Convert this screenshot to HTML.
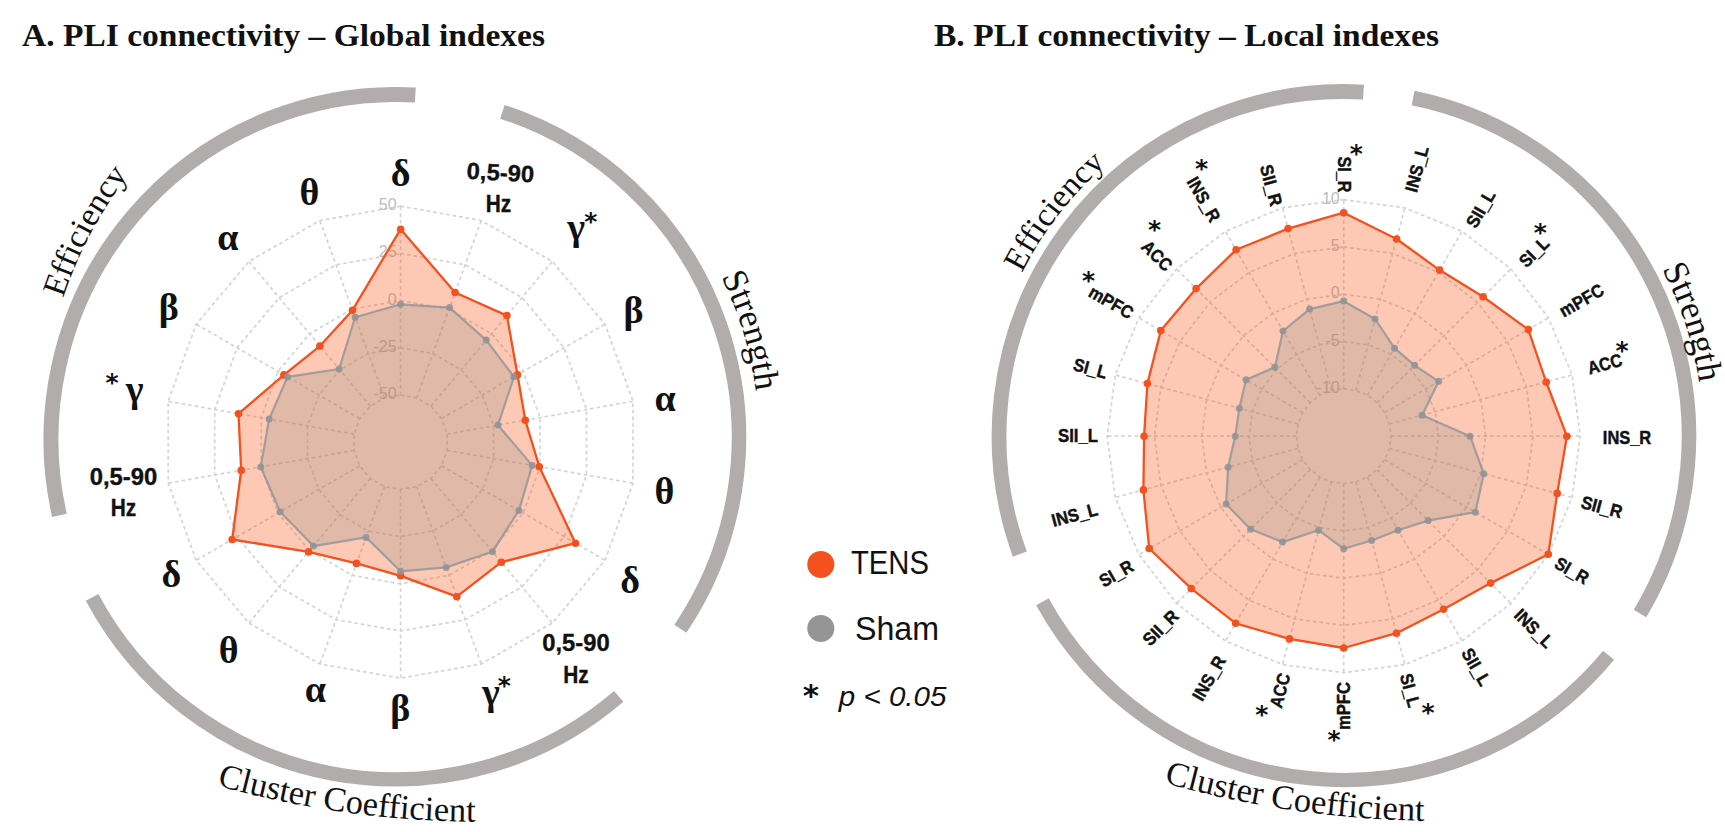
<!DOCTYPE html>
<html lang="en"><head><meta charset="utf-8"><title>PLI connectivity</title>
<style>
html,body{margin:0;padding:0;background:#fff;}
svg{display:block;}
.ttl{font-family:'Liberation Serif',serif;font-weight:bold;font-size:32px;fill:#111;}
.grk{font-family:'Liberation Serif',serif;font-weight:bold;font-size:38px;fill:#111;text-anchor:middle;}
.hz{font-family:'Liberation Sans',sans-serif;font-weight:bold;font-size:23.6px;fill:#111;stroke:#111;stroke-width:0.35px;text-anchor:middle;}
.lb{font-family:'Liberation Sans',sans-serif;font-weight:bold;font-size:18px;fill:#111;stroke:#111;stroke-width:0.45px;text-anchor:middle;}
.ast{font-family:'DejaVu Sans',sans-serif;font-weight:bold;font-size:27px;fill:#111;text-anchor:middle;}
.cur{font-family:'Liberation Serif',serif;fill:#111;}
.leg{font-family:'Liberation Sans',sans-serif;font-size:33px;fill:#111;}
</style></head><body>
<svg width="1725" height="832" viewBox="0 0 1725 832">
<rect width="1725" height="832" fill="#fff"/>
<text class="ttl" x="22" y="46" textLength="523" lengthAdjust="spacingAndGlyphs">A. PLI connectivity – Global indexes</text>
<text class="ttl" x="934" y="46" textLength="505" lengthAdjust="spacingAndGlyphs">B. PLI connectivity – Local indexes</text>
<!-- Chart A -->
<g fill="none" stroke="#d4d4d4" stroke-width="1.7" stroke-dasharray="3.6 3">
<polygon points="400.6,395.1 416.7,397.9 430.9,406.1 441.5,418.6 447.1,434.1 447.1,450.4 441.5,465.8 430.9,478.4 416.7,486.6 400.6,489.4 384.5,486.6 370.3,478.4 359.7,465.9 354.1,450.4 354.1,434.1 359.7,418.6 370.3,406.1 384.5,397.9"/>
<polygon points="400.6,347.9 432.9,353.5 461.3,369.9 482.4,395.1 493.6,425.9 493.6,458.6 482.4,489.4 461.3,514.6 432.9,531 400.6,536.6 368.3,531 339.9,514.6 318.8,489.5 307.6,458.6 307.6,425.9 318.8,395.1 339.9,369.9 368.3,353.5"/>
<polygon points="400.6,300.6 449,309.2 491.6,333.8 523.2,371.4 540,417.7 540,466.8 523.2,513 491.6,550.7 449,575.3 400.6,583.9 352.2,575.3 309.6,550.7 278,513.1 261.2,466.8 261.2,417.7 278,371.4 309.6,333.8 352.2,309.2"/>
<polygon points="400.6,253.4 465.2,264.8 522,297.6 564.1,347.8 586.5,409.5 586.5,475 564.1,536.6 522,586.9 465.2,619.7 400.6,631 336,619.7 279.2,586.9 237.1,536.7 214.7,475 214.7,409.5 237.1,347.8 279.2,297.6 336,264.8"/>
<polygon points="400.6,206.2 481.3,220.5 552.3,261.5 605,324.2 633,401.3 633,483.2 605,560.2 552.3,623 481.3,664 400.6,678.2 319.9,664 248.9,623 196.2,560.3 168.2,483.2 168.2,401.3 196.2,324.2 248.9,261.5 319.9,220.5"/>
<path d="M400.6 395.1L400.6 206.2M416.7 397.9L481.3 220.5M430.9 406.1L552.3 261.5M441.5 418.6L605 324.2M447.1 434.1L633 401.3M447.1 450.4L633 483.2M441.5 465.8L605 560.2M430.9 478.4L552.3 623M416.7 486.6L481.3 664M400.6 489.4L400.6 678.2M384.5 486.6L319.9 664M370.3 478.4L248.9 623M359.7 465.9L196.2 560.3M354.1 450.4L168.2 483.2M354.1 434.1L168.2 401.3M359.7 418.6L196.2 324.2M370.3 406.1L248.9 261.5M384.5 397.9L319.9 220.5"/>
</g>
<g font-family="'Liberation Sans', sans-serif" font-size="16" fill="#bdbdbd" text-anchor="end">
<text x="396.6" y="210.2">50</text>
<text x="396.6" y="257.4">25</text>
<text x="396.6" y="304.6">0</text>
<text x="396.6" y="351.9">-25</text>
<text x="396.6" y="399.1">-50</text>
</g>
<polygon points="400.6,229.2 455.1,292.5 506.9,315.6 517.5,374.8 525.3,420.3 539.3,466.7 575.5,543.2 501.3,562.2 456.8,596.7 400.6,575.8 356.5,563.4 308.6,551.9 232.2,539.5 241.2,470.4 238.5,413.7 283.9,374.9 319.9,346.1 352.5,310.2" fill="rgba(248,81,16,0.31)" stroke="#f4511e" stroke-width="2.3" stroke-opacity="1" stroke-linejoin="round"/>
<g fill="#f4511e" fill-opacity="1"><circle cx="400.6" cy="229.2" r="3.8"/><circle cx="455.1" cy="292.5" r="3.8"/><circle cx="506.9" cy="315.6" r="3.8"/><circle cx="517.5" cy="374.8" r="3.8"/><circle cx="525.3" cy="420.3" r="3.8"/><circle cx="539.3" cy="466.7" r="3.8"/><circle cx="575.5" cy="543.2" r="3.8"/><circle cx="501.3" cy="562.2" r="3.8"/><circle cx="456.8" cy="596.7" r="3.8"/><circle cx="400.6" cy="575.8" r="3.8"/><circle cx="356.5" cy="563.4" r="3.8"/><circle cx="308.6" cy="551.9" r="3.8"/><circle cx="232.2" cy="539.5" r="3.8"/><circle cx="241.2" cy="470.4" r="3.8"/><circle cx="238.5" cy="413.7" r="3.8"/><circle cx="283.9" cy="374.9" r="3.8"/><circle cx="319.9" cy="346.1" r="3.8"/><circle cx="352.5" cy="310.2" r="3.8"/></g>
<polygon points="400.6,304.3 449.6,307.6 486.3,340.1 514,376.8 498,425.1 532.2,465.4 518.9,510.5 492.5,551.7 446.2,567.4 400.6,571.3 366,537.4 313.4,546.1 280.1,511.8 260.7,466.9 269.1,419.1 287.5,376.9 339.1,369 355.1,317.2" fill="rgba(146,144,138,0.27)" stroke="#8f9396" stroke-width="2.2" stroke-opacity="0.8" stroke-linejoin="round"/>
<g fill="#8f9396" fill-opacity="0.88"><circle cx="400.6" cy="304.3" r="3.5"/><circle cx="449.6" cy="307.6" r="3.5"/><circle cx="486.3" cy="340.1" r="3.5"/><circle cx="514" cy="376.8" r="3.5"/><circle cx="498" cy="425.1" r="3.5"/><circle cx="532.2" cy="465.4" r="3.5"/><circle cx="518.9" cy="510.5" r="3.5"/><circle cx="492.5" cy="551.7" r="3.5"/><circle cx="446.2" cy="567.4" r="3.5"/><circle cx="400.6" cy="571.3" r="3.5"/><circle cx="366" cy="537.4" r="3.5"/><circle cx="313.4" cy="546.1" r="3.5"/><circle cx="280.1" cy="511.8" r="3.5"/><circle cx="260.7" cy="466.9" r="3.5"/><circle cx="269.1" cy="419.1" r="3.5"/><circle cx="287.5" cy="376.9" r="3.5"/><circle cx="339.1" cy="369" r="3.5"/><circle cx="355.1" cy="317.2" r="3.5"/></g>
<path d="M59.4 515.3A345 345 0 0 1 415.3 95" fill="none" stroke="#b1adad" stroke-width="15"/>
<path d="M502.4 111.8A342.2 342.2 0 0 1 680.4 628.7" fill="none" stroke="#b1adad" stroke-width="14.5"/>
<path d="M618.7 696.3A343 343 0 0 1 92.1 597.3" fill="none" stroke="#b1adad" stroke-width="14.3"/>
<text class="grk" x="400.5" y="186">δ</text>
<text class="grk" x="576.2" y="240">γ</text>
<text class="grk" x="633.5" y="323">β</text>
<text class="grk" x="665.2" y="410.5">α</text>
<text class="grk" x="664.3" y="504">θ</text>
<text class="grk" x="630" y="593">δ</text>
<text class="grk" x="491" y="705">γ</text>
<text class="grk" x="400.2" y="721">β</text>
<text class="grk" x="315.4" y="701.8">α</text>
<text class="grk" x="228.6" y="662.5">θ</text>
<text class="grk" x="171.3" y="587">δ</text>
<text class="grk" x="134.6" y="402">γ</text>
<text class="grk" x="168.7" y="319.5">β</text>
<text class="grk" x="227.9" y="250">α</text>
<text class="grk" x="309.3" y="205">θ</text>
<text class="hz" x="500.5" y="180.7" transform="rotate(3.2 500.5 172.7)" textLength="67.5" lengthAdjust="spacingAndGlyphs">0,5-90</text><text class="hz" x="498.5" y="211.6" textLength="25.5" lengthAdjust="spacingAndGlyphs">Hz</text>
<text class="hz" x="575.9" y="651.4" textLength="67.5" lengthAdjust="spacingAndGlyphs">0,5-90</text><text class="hz" x="576" y="682.5" textLength="25.5" lengthAdjust="spacingAndGlyphs">Hz</text>
<text class="hz" x="123.5" y="484.8" textLength="67.5" lengthAdjust="spacingAndGlyphs">0,5-90</text><text class="hz" x="123.5" y="516" textLength="25.5" lengthAdjust="spacingAndGlyphs">Hz</text>
<text class="ast" x="590.7" y="230" style="font-size:25px">*</text>
<text class="ast" x="504.2" y="694" style="font-size:25px">*</text>
<text class="ast" x="112" y="391.3" style="font-size:25px">*</text>
<defs>
<path id="pAe" d="M63.2 298.1A414.8 414.8 0 0 1 249.8 68.4" fill="none"/>
<path id="pAs" d="M721.2 276.9A362 362 0 0 1 753.2 500.2" fill="none"/>
<path id="pAc" d="M147.3 763A973.8 973.8 0 0 0 565.3 818" fill="none"/>
<path id="pBe" d="M1021.8 272.9A361 361 0 0 1 1250.3 87.5" fill="none"/>
<path id="pBs" d="M1662 269.1A359.5 359.5 0 0 1 1697.7 498.6" fill="none"/>
<path id="pBc" d="M1091.5 759.4A1020.7 1020.7 0 0 0 1529.6 817.1" fill="none"/>
</defs>
<text class="cur" font-size="33" textLength="140" lengthAdjust="spacingAndGlyphs"><textPath href="#pAe">Efficiency</textPath></text>
<text class="cur" font-size="35.5" textLength="120" lengthAdjust="spacingAndGlyphs"><textPath href="#pAs">Strength</textPath></text>
<text class="cur" font-size="34.3" textLength="262" lengthAdjust="spacingAndGlyphs"><textPath href="#pAc" startOffset="73">Cluster Coefficient</textPath></text>
<circle cx="820.8" cy="564.4" r="13.5" fill="#f4511e"/>
<circle cx="820.8" cy="628.4" r="13.5" fill="#959595"/>
<text class="leg" x="851" y="574.2" textLength="78" lengthAdjust="spacingAndGlyphs">TENS</text>
<text class="leg" x="855" y="639.5" textLength="84" lengthAdjust="spacingAndGlyphs">Sham</text>
<text class="leg" x="838.8" y="706.4" font-style="italic" style="font-size:28px" textLength="107.6" lengthAdjust="spacingAndGlyphs">p &lt; 0.05</text>
<text class="ast" x="810.8" y="706.4" style="font-size:31px">*</text>
<!-- Chart B -->
<g fill="none" stroke="#d4d4d4" stroke-width="1.7" stroke-dasharray="3.6 3">
<polygon points="1343.7,388.9 1355.9,390.5 1367.4,395.2 1377.1,402.8 1384.7,412.6 1389.4,424 1391,436.2 1389.4,448.4 1384.7,459.8 1377.1,469.6 1367.4,477.2 1355.9,481.9 1343.7,483.5 1331.5,481.9 1320,477.2 1310.3,469.6 1302.7,459.9 1298,448.4 1296.4,436.2 1298,424 1302.7,412.6 1310.3,402.8 1320,395.2 1331.5,390.5"/>
<polygon points="1343.7,341.6 1368.2,344.8 1391,354.3 1410.6,369.3 1425.6,388.9 1435.1,411.7 1438.3,436.2 1435.1,460.7 1425.6,483.5 1410.6,503.1 1391,518.1 1368.2,527.6 1343.7,530.8 1319.2,527.6 1296.4,518.1 1276.8,503.1 1261.8,483.5 1252.3,460.7 1249.1,436.2 1252.3,411.7 1261.8,388.9 1276.8,369.3 1296.4,354.3 1319.2,344.8"/>
<polygon points="1343.7,294.3 1380.4,299.1 1414.7,313.3 1444,335.9 1466.6,365.2 1480.8,399.5 1485.6,436.2 1480.8,472.9 1466.6,507.1 1444,536.5 1414.7,559.1 1380.4,573.3 1343.7,578.1 1307,573.3 1272.8,559.1 1243.4,536.5 1220.8,507.2 1206.6,472.9 1201.8,436.2 1206.6,399.5 1220.8,365.2 1243.4,335.9 1272.8,313.3 1307,299.1"/>
<polygon points="1343.7,247 1392.7,253.4 1438.3,272.3 1477.5,302.4 1507.6,341.6 1526.5,387.2 1532.9,436.2 1526.5,485.2 1507.6,530.8 1477.5,570 1438.3,600.1 1392.7,619 1343.7,625.4 1294.7,619 1249.1,600.1 1209.9,570 1179.8,530.8 1160.9,485.2 1154.5,436.2 1160.9,387.2 1179.8,341.6 1209.9,302.4 1249.1,272.3 1294.7,253.4"/>
<polygon points="1343.7,199.7 1404.9,207.8 1462,231.4 1510.9,269 1548.5,317.9 1572.1,375 1580.2,436.2 1572.1,497.4 1548.5,554.4 1510.9,603.4 1462,641 1404.9,664.6 1343.7,672.7 1282.5,664.6 1225.5,641 1176.5,603.4 1138.9,554.5 1115.3,497.4 1107.2,436.2 1115.3,375 1138.9,317.9 1176.5,269 1225.5,231.4 1282.5,207.8"/>
<path d="M1343.7 388.9L1343.7 199.7M1355.9 390.5L1404.9 207.8M1367.4 395.2L1462 231.4M1377.1 402.8L1510.9 269M1384.7 412.6L1548.5 317.9M1389.4 424L1572.1 375M1391 436.2L1580.2 436.2M1389.4 448.4L1572.1 497.4M1384.7 459.8L1548.5 554.4M1377.1 469.6L1510.9 603.4M1367.4 477.2L1462 641M1355.9 481.9L1404.9 664.6M1343.7 483.5L1343.7 672.7M1331.5 481.9L1282.5 664.6M1320 477.2L1225.5 641M1310.3 469.6L1176.5 603.4M1302.7 459.9L1138.9 554.5M1298 448.4L1115.3 497.4M1296.4 436.2L1107.2 436.2M1298 424L1115.3 375M1302.7 412.6L1138.9 317.9M1310.3 402.8L1176.5 269M1320 395.2L1225.5 231.4M1331.5 390.5L1282.5 207.8"/>
</g>
<g font-family="'Liberation Sans', sans-serif" font-size="16" fill="#bdbdbd" text-anchor="end">
<text x="1339.7" y="203.7">10</text>
<text x="1339.7" y="251">5</text>
<text x="1339.7" y="298.3">0</text>
<text x="1339.7" y="345.6">-5</text>
<text x="1339.7" y="392.9">-10</text>
</g>
<polygon points="1343.7,212.7 1396.6,239 1439.6,270.1 1483.1,296.8 1528.3,329.6 1546.2,382 1566.9,436.2 1557.2,493.4 1548.3,554.3 1490.6,583.1 1443.6,609.2 1396.5,633.2 1343.7,648 1289.4,638.9 1235.7,623.3 1191.3,588.6 1149.2,548.5 1143.4,489.9 1144.1,436.2 1147.4,383.6 1160.8,330.6 1196.1,288.6 1236.1,249.8 1288.1,228.6" fill="rgba(248,81,16,0.31)" stroke="#f4511e" stroke-width="2.3" stroke-opacity="1" stroke-linejoin="round"/>
<g fill="#f4511e" fill-opacity="1"><circle cx="1343.7" cy="212.7" r="3.8"/><circle cx="1396.6" cy="239" r="3.8"/><circle cx="1439.6" cy="270.1" r="3.8"/><circle cx="1483.1" cy="296.8" r="3.8"/><circle cx="1528.3" cy="329.6" r="3.8"/><circle cx="1546.2" cy="382" r="3.8"/><circle cx="1566.9" cy="436.2" r="3.8"/><circle cx="1557.2" cy="493.4" r="3.8"/><circle cx="1548.3" cy="554.3" r="3.8"/><circle cx="1490.6" cy="583.1" r="3.8"/><circle cx="1443.6" cy="609.2" r="3.8"/><circle cx="1396.5" cy="633.2" r="3.8"/><circle cx="1343.7" cy="648" r="3.8"/><circle cx="1289.4" cy="638.9" r="3.8"/><circle cx="1235.7" cy="623.3" r="3.8"/><circle cx="1191.3" cy="588.6" r="3.8"/><circle cx="1149.2" cy="548.5" r="3.8"/><circle cx="1143.4" cy="489.9" r="3.8"/><circle cx="1144.1" cy="436.2" r="3.8"/><circle cx="1147.4" cy="383.6" r="3.8"/><circle cx="1160.8" cy="330.6" r="3.8"/><circle cx="1196.1" cy="288.6" r="3.8"/><circle cx="1236.1" cy="249.8" r="3.8"/><circle cx="1288.1" cy="228.6" r="3.8"/></g>
<polygon points="1343.7,301.1 1375.1,319 1394.5,348.2 1414.6,365.3 1438.7,381.3 1422.2,415.2 1470.1,436.2 1483.8,473.7 1475.4,512.2 1428.1,520.6 1398,530.3 1371.7,540.5 1343.7,548.8 1318.5,530.2 1282.5,542.1 1250.6,529.3 1226.1,504.1 1228.1,467.2 1235.2,436.2 1239.3,408.2 1246,379.8 1274.8,367.3 1283,331 1309.6,309.1" fill="rgba(146,144,138,0.27)" stroke="#8f9396" stroke-width="2.2" stroke-opacity="0.8" stroke-linejoin="round"/>
<g fill="#8f9396" fill-opacity="0.88"><circle cx="1343.7" cy="301.1" r="3.5"/><circle cx="1375.1" cy="319" r="3.5"/><circle cx="1394.5" cy="348.2" r="3.5"/><circle cx="1414.6" cy="365.3" r="3.5"/><circle cx="1438.7" cy="381.3" r="3.5"/><circle cx="1422.2" cy="415.2" r="3.5"/><circle cx="1470.1" cy="436.2" r="3.5"/><circle cx="1483.8" cy="473.7" r="3.5"/><circle cx="1475.4" cy="512.2" r="3.5"/><circle cx="1428.1" cy="520.6" r="3.5"/><circle cx="1398" cy="530.3" r="3.5"/><circle cx="1371.7" cy="540.5" r="3.5"/><circle cx="1343.7" cy="548.8" r="3.5"/><circle cx="1318.5" cy="530.2" r="3.5"/><circle cx="1282.5" cy="542.1" r="3.5"/><circle cx="1250.6" cy="529.3" r="3.5"/><circle cx="1226.1" cy="504.1" r="3.5"/><circle cx="1228.1" cy="467.2" r="3.5"/><circle cx="1235.2" cy="436.2" r="3.5"/><circle cx="1239.3" cy="408.2" r="3.5"/><circle cx="1246" cy="379.8" r="3.5"/><circle cx="1274.8" cy="367.3" r="3.5"/><circle cx="1283" cy="331" r="3.5"/><circle cx="1309.6" cy="309.1" r="3.5"/></g>
<path d="M1019.8 554.1A344.7 344.7 0 0 1 1363.5 92.1" fill="none" stroke="#b1adad" stroke-width="14.8"/>
<path d="M1413.1 98A345.3 345.3 0 0 1 1640 613.5" fill="none" stroke="#b1adad" stroke-width="14.6"/>
<path d="M1608.6 655.3A343.8 343.8 0 0 1 1042.4 601.8" fill="none" stroke="#b1adad" stroke-width="14.3"/>
<text class="lb" transform="translate(1344.4 174.4) rotate(90)" y="6.5" textLength="36" lengthAdjust="spacingAndGlyphs">SI_R</text>
<text class="lb" transform="translate(1416.5 168.9) rotate(-75)" y="6.5" textLength="47" lengthAdjust="spacingAndGlyphs">INS_L</text>
<text class="lb" transform="translate(1480.4 208.6) rotate(-60)" y="6.5" textLength="40" lengthAdjust="spacingAndGlyphs">SII_L</text>
<text class="lb" transform="translate(1533.8 251.9) rotate(-45)" y="6.5" textLength="34" lengthAdjust="spacingAndGlyphs">SI_L</text>
<text class="lb" transform="translate(1581.4 300.2) rotate(-30)" y="6.5" textLength="48" lengthAdjust="spacingAndGlyphs">mPFC</text>
<text class="lb" transform="translate(1604.8 363.7) rotate(-15)" y="6.5" textLength="35" lengthAdjust="spacingAndGlyphs">ACC</text>
<text class="lb" transform="translate(1627 437.4) rotate(0)" y="6.5" textLength="48.4" lengthAdjust="spacingAndGlyphs">INS_R</text>
<text class="lb" transform="translate(1601.9 506.8) rotate(15)" y="6.5" textLength="42" lengthAdjust="spacingAndGlyphs">SII_R</text>
<text class="lb" transform="translate(1572 570.3) rotate(30)" y="6.5" textLength="36" lengthAdjust="spacingAndGlyphs">SI_R</text>
<text class="lb" transform="translate(1534.1 628.3) rotate(45)" y="6.5" textLength="47" lengthAdjust="spacingAndGlyphs">INS_L</text>
<text class="lb" transform="translate(1476.4 666.9) rotate(60)" y="6.5" textLength="40" lengthAdjust="spacingAndGlyphs">SII_L</text>
<text class="lb" transform="translate(1410.4 690.3) rotate(75)" y="6.5" textLength="34" lengthAdjust="spacingAndGlyphs">SI_L</text>
<text class="lb" transform="translate(1343.6 706) rotate(-90)" y="6.5" textLength="48" lengthAdjust="spacingAndGlyphs">mPFC</text>
<text class="lb" transform="translate(1279.7 690.4) rotate(-75)" y="6.5" textLength="35" lengthAdjust="spacingAndGlyphs">ACC</text>
<text class="lb" transform="translate(1208.7 678.1) rotate(-60)" y="6.5" textLength="48.4" lengthAdjust="spacingAndGlyphs">INS_R</text>
<text class="lb" transform="translate(1160.3 627.6) rotate(-45)" y="6.5" textLength="42" lengthAdjust="spacingAndGlyphs">SII_R</text>
<text class="lb" transform="translate(1116 573.2) rotate(-30)" y="6.5" textLength="36" lengthAdjust="spacingAndGlyphs">SI_R</text>
<text class="lb" transform="translate(1074.5 514.7) rotate(-15)" y="6.5" textLength="47" lengthAdjust="spacingAndGlyphs">INS_L</text>
<text class="lb" transform="translate(1078 435) rotate(0)" y="6.5" textLength="40" lengthAdjust="spacingAndGlyphs">SII_L</text>
<text class="lb" transform="translate(1090.4 368) rotate(15)" y="6.5" textLength="34" lengthAdjust="spacingAndGlyphs">SI_L</text>
<text class="lb" transform="translate(1111.3 302) rotate(30)" y="6.5" textLength="48" lengthAdjust="spacingAndGlyphs">mPFC</text>
<text class="lb" transform="translate(1157.1 255.5) rotate(45)" y="6.5" textLength="35" lengthAdjust="spacingAndGlyphs">ACC</text>
<text class="lb" transform="translate(1204 199.2) rotate(60)" y="6.5" textLength="48.4" lengthAdjust="spacingAndGlyphs">INS_R</text>
<text class="lb" transform="translate(1271.4 185.2) rotate(75)" y="6.5" textLength="42" lengthAdjust="spacingAndGlyphs">SII_R</text>
<text class="ast" x="1356.3" y="161.8" style="font-size:25px">*</text>
<text class="ast" x="1540.2" y="241.1" style="font-size:25px">*</text>
<text class="ast" x="1622.1" y="358.7" style="font-size:25px">*</text>
<text class="ast" x="1428.1" y="721.4" style="font-size:25px">*</text>
<text class="ast" x="1334" y="747.5" style="font-size:25px">*</text>
<text class="ast" x="1261.7" y="723.2" style="font-size:25px">*</text>
<text class="ast" x="1088.6" y="289" style="font-size:25px">*</text>
<text class="ast" x="1154.6" y="237.5" style="font-size:25px">*</text>
<text class="ast" x="1201.5" y="176.5" style="font-size:25px">*</text>
<text class="cur" font-size="33" textLength="138" lengthAdjust="spacingAndGlyphs"><textPath href="#pBe">Efficiency</textPath></text>
<text class="cur" font-size="35.5" textLength="120" lengthAdjust="spacingAndGlyphs"><textPath href="#pBs">Strength</textPath></text>
<text class="cur" font-size="34.3" textLength="264" lengthAdjust="spacingAndGlyphs"><textPath href="#pBc" startOffset="76">Cluster Coefficient</textPath></text>
</svg></body></html>
